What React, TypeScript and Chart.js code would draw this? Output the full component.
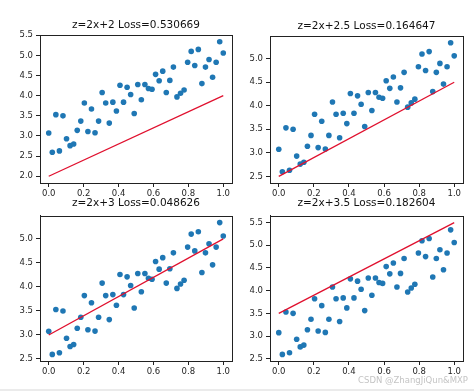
import React, { useEffect, useRef } from "react";
import { Chart, registerables } from "chart.js";

Chart.register(...registerables);

const xs: number[] = [
  0.0, 0.0204, 0.0408, 0.0612, 0.0816, 0.102, 0.1224, 0.1429, 0.1633, 0.1837,
  0.2041, 0.2245, 0.2449, 0.2653, 0.2857, 0.3061, 0.3265, 0.3469, 0.3673, 0.3878,
  0.4082, 0.4286, 0.449, 0.4694, 0.4898, 0.5102, 0.5306, 0.551, 0.5714, 0.5918,
  0.6122, 0.6327, 0.6531, 0.6735, 0.6939, 0.7143, 0.7347, 0.7551, 0.7755, 0.7959,
  0.8163, 0.8367, 0.8571, 0.8776, 0.898, 0.9184, 0.9388, 0.9592, 0.9796, 1.0,
];

const ys: number[] = [
  3.075, 2.595, 3.53, 2.63, 3.5, 2.93, 2.76, 2.8, 3.14, 3.37,
  3.82, 3.11, 3.67, 3.08, 3.37, 4.08, 3.82, 3.32, 3.84, 3.62,
  4.26, 3.84, 4.21, 4.03, 3.56, 4.28, 3.9, 4.28, 4.18, 4.16,
  4.53, 4.37, 4.61, 4.08, 4.38, 4.71, 3.97, 4.06, 4.14, 4.83,
  5.1, 4.75, 5.15, 4.3, 4.71, 4.9, 4.46, 4.83, 5.34, 5.06,
];

const titles: string[] = [
  "z=2x+2 Loss=0.530669",
  "z=2x+2.5 Loss=0.164647",
  "z=2x+3 Loss=0.048626",
  "z=2x+3.5 Loss=0.182604",
];

const lineX: number[] = [0, 1];
const lineStarts: number[] = [2, 2.5, 3, 3.5];
const lineEnds: number[] = [4, 4.5, 5, 5.5];

const W = 474;
const H = 391;
const Y_AXIS_W = 40;
const X_AXIS_H = 20;
const TITLE_SIZE = 10.5;

const panels = [
  { l: 40, r: 232, t: 35, b: 183, ty: 25.5 },
  { l: 270, r: 463, t: 36, b: 183, ty: 26 },
  { l: 40, r: 232, t: 216, b: 361, ty: 203.5 },
  { l: 270, r: 463, t: 216, b: 361, ty: 203.5 },
];

const frame = {
  id: "frame",
  afterDraw(chart: any) {
    const a = chart.chartArea;
    const ctx = chart.ctx;
    ctx.save();
    ctx.strokeStyle = "#222";
    ctx.lineWidth = 1;
    ctx.strokeRect(Math.round(a.left) + 0.5, Math.round(a.top) + 0.5, Math.round(a.right - a.left), Math.round(a.bottom - a.top));
    ctx.restore();
  },
};

function Panel({ idx }: { idx: number }) {
  const ref = useRef<HTMLCanvasElement | null>(null);
  useEffect(() => {
    const p = panels[idx];
    const lineData = lineX.map((x, i) => ({ x, y: i === 0 ? lineStarts[idx] : lineEnds[idx] }));
    const allY = ys.concat([lineStarts[idx], lineEnds[idx]]);
    const lo = Math.min(...allY);
    const hi = Math.max(...allY);
    const m = (hi - lo) * 0.05;
    const tickFont = { family: "DejaVu Sans", size: 8.5 };
    const lh = TITLE_SIZE * 1.2;
    const chart = new Chart(ref.current as HTMLCanvasElement, {
      type: "scatter",
      data: {
        datasets: [
          {
            type: "line",
            data: lineData,
            borderColor: "#e0102e",
            borderWidth: 1.3,
            pointRadius: 0,
            showLine: true,
            order: 0,
          } as any,
          {
            type: "scatter",
            data: xs.map((x, i) => ({ x, y: ys[i] })),
            pointRadius: 2.8,
            pointBackgroundColor: "#1f77b4",
            pointBorderWidth: 0,
            order: 1,
          } as any,
        ],
      },
      options: {
        responsive: false,
        animation: false,
        devicePixelRatio: 1,
        events: [],
        layout: {
          padding: { left: p.l - Y_AXIS_W, right: W - p.r, top: 0, bottom: H - p.b - X_AXIS_H },
        },
        plugins: {
          legend: { display: false },
          tooltip: { enabled: false },
          title: {
            display: true,
            text: titles[idx],
            fullSize: false,
            color: "#111",
            font: { family: "DejaVu Sans", size: TITLE_SIZE, weight: "normal", lineHeight: 1.2 },
            padding: { top: p.ty - lh / 2, bottom: p.t - p.ty - lh / 2 },
          },
        },
        scales: {
          x: {
            type: "linear",
            min: -0.05,
            max: 1.05,
            afterFit: (s: any) => { s.height = X_AXIS_H; },
            grid: { display: true, drawOnChartArea: false, drawTicks: true, tickLength: 4, color: "#222", lineWidth: 1 },
            border: { display: true, color: "#222", width: 1 },
            ticks: {
              stepSize: 0.2,
              includeBounds: false,
              padding: 2,
              color: "#262626",
              font: tickFont,
              maxRotation: 0,
              autoSkip: false,
              callback: (v: any) => Number(v).toFixed(1),
            },
          },
          y: {
            type: "linear",
            min: lo - m,
            max: hi + m,
            afterFit: (s: any) => { s.width = Y_AXIS_W; },
            grid: { display: true, drawOnChartArea: false, drawTicks: true, tickLength: 4, color: "#222", lineWidth: 1 },
            border: { display: true, color: "#222", width: 1 },
            ticks: {
              stepSize: 0.5,
              includeBounds: false,
              padding: 3,
              color: "#262626",
              font: tickFont,
              autoSkip: false,
              callback: (v: any) => Number(v).toFixed(1),
            },
          },
        },
      } as any,
      plugins: [frame],
    });
    return () => chart.destroy();
  }, [idx]);
  return (
    <canvas
      ref={ref}
      width={W}
      height={H}
      style={{ position: "absolute", left: 0, top: 0, width: W, height: H }}
    />
  );
}

export default function App() {
  return (
    <div style={{ position: "fixed", left: 0, top: 0, width: W, height: H, background: "#fff", overflow: "hidden" }}>
      {panels.map((_, i) => (
        <Panel key={i} idx={i} />
      ))}
      <div
        style={{
          position: "absolute",
          right: 6,
          top: 375,
          fontFamily: "DejaVu Sans",
          fontSize: 8.5,
          color: "#c4c4c4",
          whiteSpace: "nowrap",
        }}
      >
        CSDN @ZhangJiQun&amp;MXP
      </div>
      <div style={{ position: "absolute", left: 0, top: 389, width: W, height: 2, background: "#ebebeb" }} />
    </div>
  );
}
